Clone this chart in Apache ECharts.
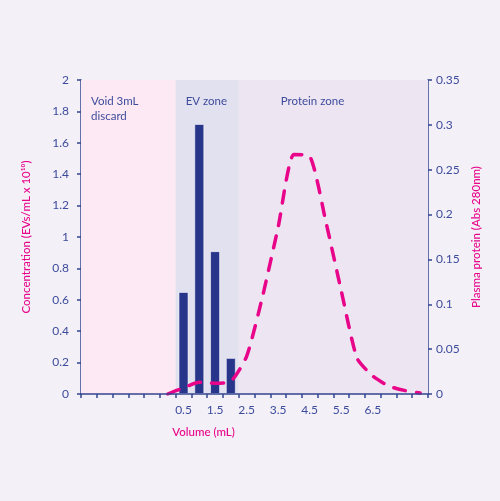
<!DOCTYPE html>
<html>
<head>
<meta charset="utf-8">
<script src="https://cdn.jsdelivr.net/npm/echarts@6/dist/echarts.min.js"></script>
<style>
  html, body { margin: 0; padding: 0; background: #f3f1f7; }
  #chart { width: 500px; height: 501px; }
</style>
</head>
<body>
<div id="chart"></div>
<script>
// 体积分段（每段 0.5mL），前 6 段为 3mL 弃去部分
const volumeLabels = ['D1', 'D2', 'D3', 'D4', 'D5', 'D6',
    '0.5', '1', '1.5', '2', '2.5', '3', '3.5', '4', '4.5', '5', '5.5', '6', '6.5', '7', '7.5', '8'];

// EV 浓度（柱状，左轴）
const evConcentration = [null, null, null, null, null, null,
    0.65, 1.72, 0.91, 0.23, null, null, null, null, null, null, null, null, null, null, null, null];

// 血浆蛋白吸光度（虚线，右轴）
const plasmaProtein = [null, null, null, null, null, 0,
    0.007, 0.013, 0.012, 0.014, 0.042, 0.108, 0.186, 0.267, 0.265, 0.194, 0.115, 0.04, 0.02, 0.009, 0.004, 0.001];

// 区域：[起始段, 结束段, 名称]
const zones = [
    [0, 6, 'Void 3mL\ndiscard'],
    [6, 10, 'EV zone'],
    [10, 22, 'Protein zone']
];
const zoneColors = ['#fde9f3', '#e2e1ef', '#ede5f1'];
const zoneLabelPad = [10, 10, 42];

const navy = '#34448f';
const labelColor = '#3d4b9c';
const pink = '#e8058a';
const font = 'Lato';

const chart = echarts.init(document.getElementById('chart'));

const option = {
    backgroundColor: '#f3f1f7',
    textStyle: { fontFamily: font },
    grid: { left: 81, right: 72, top: 80, bottom: 107 },
    xAxis: [
        {
            type: 'category',
            data: volumeLabels,
            boundaryGap: true,
            name: 'Volume (mL)',
            nameLocation: 'middle',
            nameGap: 32,
            nameTextStyle: { color: pink, fontSize: 11.5, fontWeight: 500, padding: [0, 102, 0, 0] },
            axisLine: { show: true, lineStyle: { color: navy, width: 1.5 } },
            axisTick: { show: true, interval: 0, alignWithLabel: false, length: 4, lineStyle: { color: navy, width: 1.5 } },
            axisLabel: {
                color: labelColor,
                fontSize: 12,
                margin: 10,
                interval: (idx) => idx >= 6 && idx <= 18 && (idx - 6) % 2 === 0
            },
            z: 5
        },
        {
            type: 'value',
            min: 0,
            max: 22,
            show: false
        }
    ],
    yAxis: [
        {
            type: 'value',
            min: 0,
            max: 2,
            interval: 0.2,
            name: 'Concentration (EVs/mL x 10¹⁰)',
            nameLocation: 'middle',
            nameGap: 49,
            nameTextStyle: { color: pink, fontSize: 11.5, fontWeight: 500 },
            axisLine: { show: true, lineStyle: { color: navy, width: 1.5 } },
            axisTick: { show: true, length: 4, lineStyle: { color: navy, width: 1.5 } },
            axisLabel: { color: labelColor, fontSize: 12, margin: 12 },
            splitLine: { show: false }
        },
        {
            type: 'value',
            min: 0,
            max: 0.35,
            interval: 0.05,
            position: 'right',
            name: 'Plasma protein (Abs 280nm)',
            nameLocation: 'middle',
            nameGap: 42,
            nameRotate: 90,
            nameTextStyle: { color: pink, fontSize: 11.5, fontWeight: 500 },
            axisLine: { show: true, lineStyle: { color: navy, width: 1.5 } },
            axisTick: { show: true, length: 4, lineStyle: { color: navy, width: 1.5 } },
            axisLabel: { color: labelColor, fontSize: 12, margin: 8 },
            splitLine: { show: false }
        }
    ],
    series: [
        {
            name: 'zones',
            type: 'line',
            xAxisIndex: 1,
            yAxisIndex: 0,
            data: [],
            silent: true,
            markArea: {
                silent: true,
                data: zones.map((z, i) => [
                    {
                        xAxis: z[0],
                        itemStyle: { color: zoneColors[i] },
                        label: {
                            show: true,
                            position: 'insideTopLeft',
                            distance: 0,
                            formatter: z[2],
                            color: labelColor,
                            fontSize: 11.5,
                            lineHeight: 15,
                            padding: [14, 0, 0, zoneLabelPad[i]]
                        }
                    },
                    { xAxis: z[1] }
                ])
            },
            z: 0
        },
        {
            name: 'EV concentration',
            type: 'bar',
            data: evConcentration,
            barWidth: 10,
            itemStyle: {
                color: '#27358b',
                borderColor: 'rgba(255,255,255,0.55)',
                borderWidth: 1
            },
            z: 2
        },
        {
            name: 'Plasma protein',
            type: 'line',
            yAxisIndex: 1,
            data: plasmaProtein,
            smooth: 0.2,
            symbol: 'none',
            lineStyle: {
                color: pink,
                width: 3.5,
                type: [12, 11],
                cap: 'round'
            },
            z: 3
        }
    ]
};

chart.setOption(option);
window.addEventListener('resize', () => chart.resize());
</script>
</body>
</html>
